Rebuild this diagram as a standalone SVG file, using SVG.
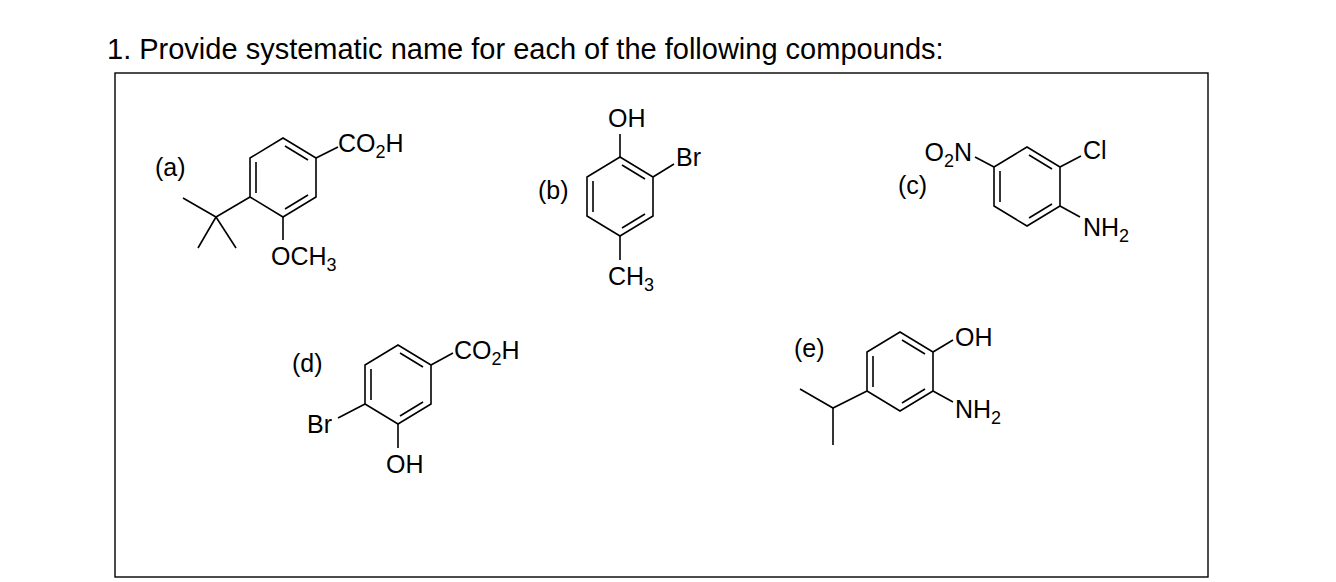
<svg xmlns="http://www.w3.org/2000/svg" xmlns:xlink="http://www.w3.org/1999/xlink" width="1336" height="582" viewBox="0 0 1336 582">
<style>
text{font-family:"Liberation Sans",Arial,sans-serif;font-size:25px;fill:#000}
.t{font-size:29px}
.s{font-size:18px}
line,polyline,polygon{stroke:#000;stroke-width:1.6;fill:none}
</style>
<defs>
<g id="ring">
<polygon points="0,0 33,20 33,59 0,79 -33,59 -33,20"/>
<line x1="-27" y1="24" x2="-27" y2="55"/>
<line x1="2" y1="8" x2="25" y2="22"/>
<line x1="25" y1="57" x2="2" y2="71"/>
</g>
</defs>
<rect width="1336" height="582" fill="#fff"/>
<text class="t" x="107" y="59">1. Provide systematic name for each of the following compounds:</text>
<rect x="115" y="73" width="1093" height="504" fill="none" stroke="#000" stroke-width="1.4"/>
<g id="a">
<text x="155" y="176">(a)</text>
<use xlink:href="#ring" href="#ring" transform="translate(283,138)"/>
<line x1="316" y1="158" x2="338" y2="147"/>
<text x="338" y="152">CO<tspan class="s" dy="6">2</tspan><tspan dy="-6">H</tspan></text>
<line x1="283" y1="217" x2="283" y2="240"/>
<text x="271" y="265">OCH<tspan class="s" dy="6">3</tspan></text>
<polyline points="250,197 216,217 183,198"/>
<line x1="216" y1="217" x2="198" y2="248"/>
<line x1="216" y1="217" x2="236" y2="248"/>
</g>
<g id="b">
<text x="538" y="199">(b)</text>
<use xlink:href="#ring" href="#ring" transform="translate(620,157)"/>
<line x1="620" y1="157" x2="620" y2="134"/>
<text x="608" y="127">OH</text>
<line x1="653" y1="177" x2="674" y2="164"/>
<text x="676" y="166">Br</text>
<line x1="620" y1="236" x2="620" y2="260"/>
<text x="608" y="285">CH<tspan class="s" dy="6">3</tspan></text>
</g>
<g id="c">
<text x="898" y="194">(c)</text>
<use xlink:href="#ring" href="#ring" transform="translate(1027,147)"/>
<line x1="994" y1="167" x2="975" y2="157"/>
<text x="972" y="161" text-anchor="end">O<tspan class="s" dy="6">2</tspan><tspan dy="-6">N</tspan></text>
<line x1="1060" y1="167" x2="1081" y2="156"/>
<text x="1083" y="159">Cl</text>
<line x1="1060" y1="206" x2="1080" y2="217"/>
<text x="1083" y="236">NH<tspan class="s" dy="6">2</tspan></text>
</g>
<g id="d">
<text x="292" y="372">(d)</text>
<use xlink:href="#ring" href="#ring" transform="translate(398,345)"/>
<line x1="431" y1="365" x2="453" y2="353"/>
<text x="454" y="359">CO<tspan class="s" dy="6">2</tspan><tspan dy="-6">H</tspan></text>
<line x1="365" y1="404" x2="338" y2="418"/>
<text x="307" y="433">Br</text>
<line x1="398" y1="424" x2="398" y2="448"/>
<text x="386" y="473">OH</text>
</g>
<g id="e">
<text x="794" y="357">(e)</text>
<use xlink:href="#ring" href="#ring" transform="translate(900,332)"/>
<line x1="933" y1="352" x2="953" y2="340"/>
<text x="955" y="346">OH</text>
<line x1="933" y1="391" x2="953" y2="402"/>
<text x="955" y="418">NH<tspan class="s" dy="6">2</tspan></text>
<polyline points="867,391 833,408 800,389"/>
<line x1="833" y1="408" x2="833" y2="445"/>
</g>
</svg>
